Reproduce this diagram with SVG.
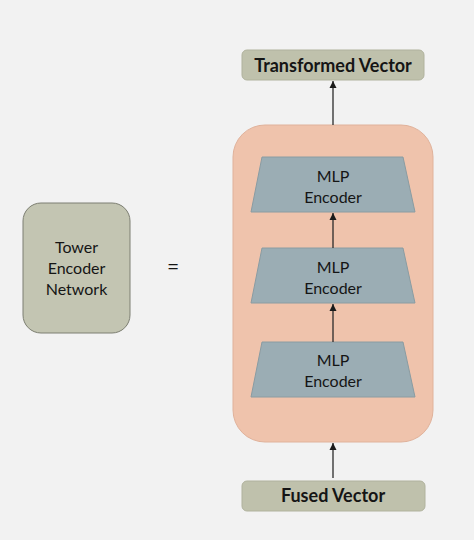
<svg xmlns="http://www.w3.org/2000/svg" width="474" height="540" viewBox="0 0 474 540">
<defs>
<marker id="ah" markerWidth="8" markerHeight="8" refX="7" refY="4" orient="auto" markerUnits="userSpaceOnUse">
<path d="M0,0.5 L7,4 L0,7.5 Z" fill="#1a1a1a"/>
</marker>
<style>
.t{font-family:Lato,"Open Sans","Liberation Sans",sans-serif;fill:#151515;text-anchor:middle}
.big{font-size:18px;font-weight:bold}
.mid{font-size:16px}
.trap{fill:#9badb4;stroke:#8a9ca2;stroke-width:1}
.vec{fill:#bfc1ac;stroke:#b0b29d;stroke-width:1}
.conn line{stroke:#2a2a2a;stroke-width:1.3;marker-end:url(#ah)}
</style>
</defs>
<rect width="474" height="540" fill="#f2f2f2"/>
<g id="tower">
<rect x="23" y="203" width="107" height="130" rx="18" fill="#c3c5b2" stroke="#7d7f72" stroke-width="1"/>
<text class="t mid" x="76.5" y="253">Tower</text>
<text class="t mid" x="76.5" y="274">Encoder</text>
<text class="t mid" x="76.5" y="295">Network</text>
</g>
<g id="equals"><text class="t" x="173" y="274" style="font-size:21px">=</text></g>
<g id="container">
<rect x="233" y="125" width="200" height="317" rx="32" fill="#efc3ac" stroke="#e0b29b" stroke-width="1"/>
</g>
<g id="transformed">
<rect class="vec" x="242" y="50" width="182" height="30" rx="5"/>
<text class="t big" x="333" y="72">Transformed Vector</text>
</g>
<g id="mlp1">
<polygon class="trap" points="262,157 403,157 415,212 251,212"/>
<text class="t mid" x="333" y="182">MLP</text>
<text class="t mid" x="333" y="203">Encoder</text>
</g>
<g id="mlp2">
<polygon class="trap" points="262,248 403,248 415,303 251,303"/>
<text class="t mid" x="333" y="273">MLP</text>
<text class="t mid" x="333" y="294">Encoder</text>
</g>
<g id="mlp3">
<polygon class="trap" points="262,342 403,342 415,397 251,397"/>
<text class="t mid" x="333" y="366">MLP</text>
<text class="t mid" x="333" y="387">Encoder</text>
</g>
<g id="fused">
<rect class="vec" x="242" y="481" width="183" height="30" rx="5"/>
<text class="t big" x="333" y="502">Fused Vector</text>
</g>
<g class="conn" id="connectors">
<line x1="333" y1="125" x2="333" y2="81"/>
<line x1="333" y1="248" x2="333" y2="213"/>
<line x1="333" y1="342" x2="333" y2="304"/>
<line x1="333" y1="478" x2="333" y2="443"/>
</g>
</svg>
